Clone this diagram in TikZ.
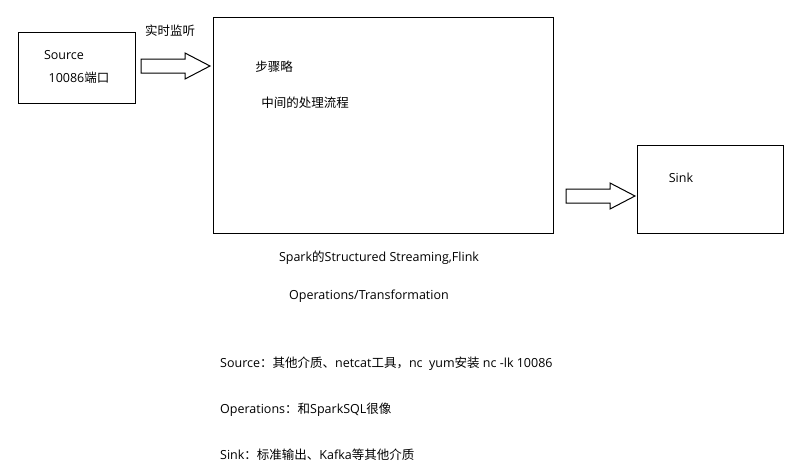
\documentclass[tikz,border=0pt]{standalone}
\usepackage{fontspec}
\setmainfont{Open Sans}
\newfontfamily\cjk{Noto Sans CJK SC}
\begin{document}
\begin{tikzpicture}[x=1pt,y=-1pt,
  box/.style={draw,line width=1pt},
  txt/.style={font=\fontsize{12.5}{14}\selectfont,inner sep=0pt},
  blk/.style={draw,line width=1pt}]
\useasboundingbox[fill=white] (0,0) rectangle (794,464);
\draw[box] (18,32) rectangle (135,103);
\draw[box] (213,17) rectangle (553,233);
\draw[box] (637,145) rectangle (783,233);
\node[txt] (s1) at (64,55) {Source};
\node[txt] (s2) at (79,78) {10086{\cjk 端口}};
\node[txt] (m1) at (274,67) {\cjk 步骤略};
\node[txt] (m2) at (305,103) {\cjk 中间的处理流程};
\node[txt] (k1) at (681,178) {Sink};
\node[txt] (l1) at (170,31) {\cjk 实时监听};
\draw[blk] (141,59) -- (185,59) -- (185,53) -- (210,66) -- (185,79) -- (185,73) -- (141,73) -- cycle;
\draw[blk] (566,189) -- (610,189) -- (610,183) -- (635,196) -- (610,209) -- (610,203) -- (566,203) -- cycle;
\node[txt] (b1) at (379,258) {Spark{\cjk 的}Structured Streaming,Flink};
\node[txt] (b2) at (369,296) {Operations/Transformation};
\node[txt,anchor=west] (n1) at (220,364) {Source{\cjk ：其他介质、}netcat{\cjk 工具，}nc\ \ yum{\cjk 安装} nc -lk 10086};
\node[txt,anchor=west] (n2) at (220,410) {Operations{\cjk ：和}SparkSQL{\cjk 很像}};
\node[txt,anchor=west] (n3) at (220,455) {Sink{\cjk ：标准输出、}Kafka{\cjk 等其他介质}};
\end{tikzpicture}
\end{document}
